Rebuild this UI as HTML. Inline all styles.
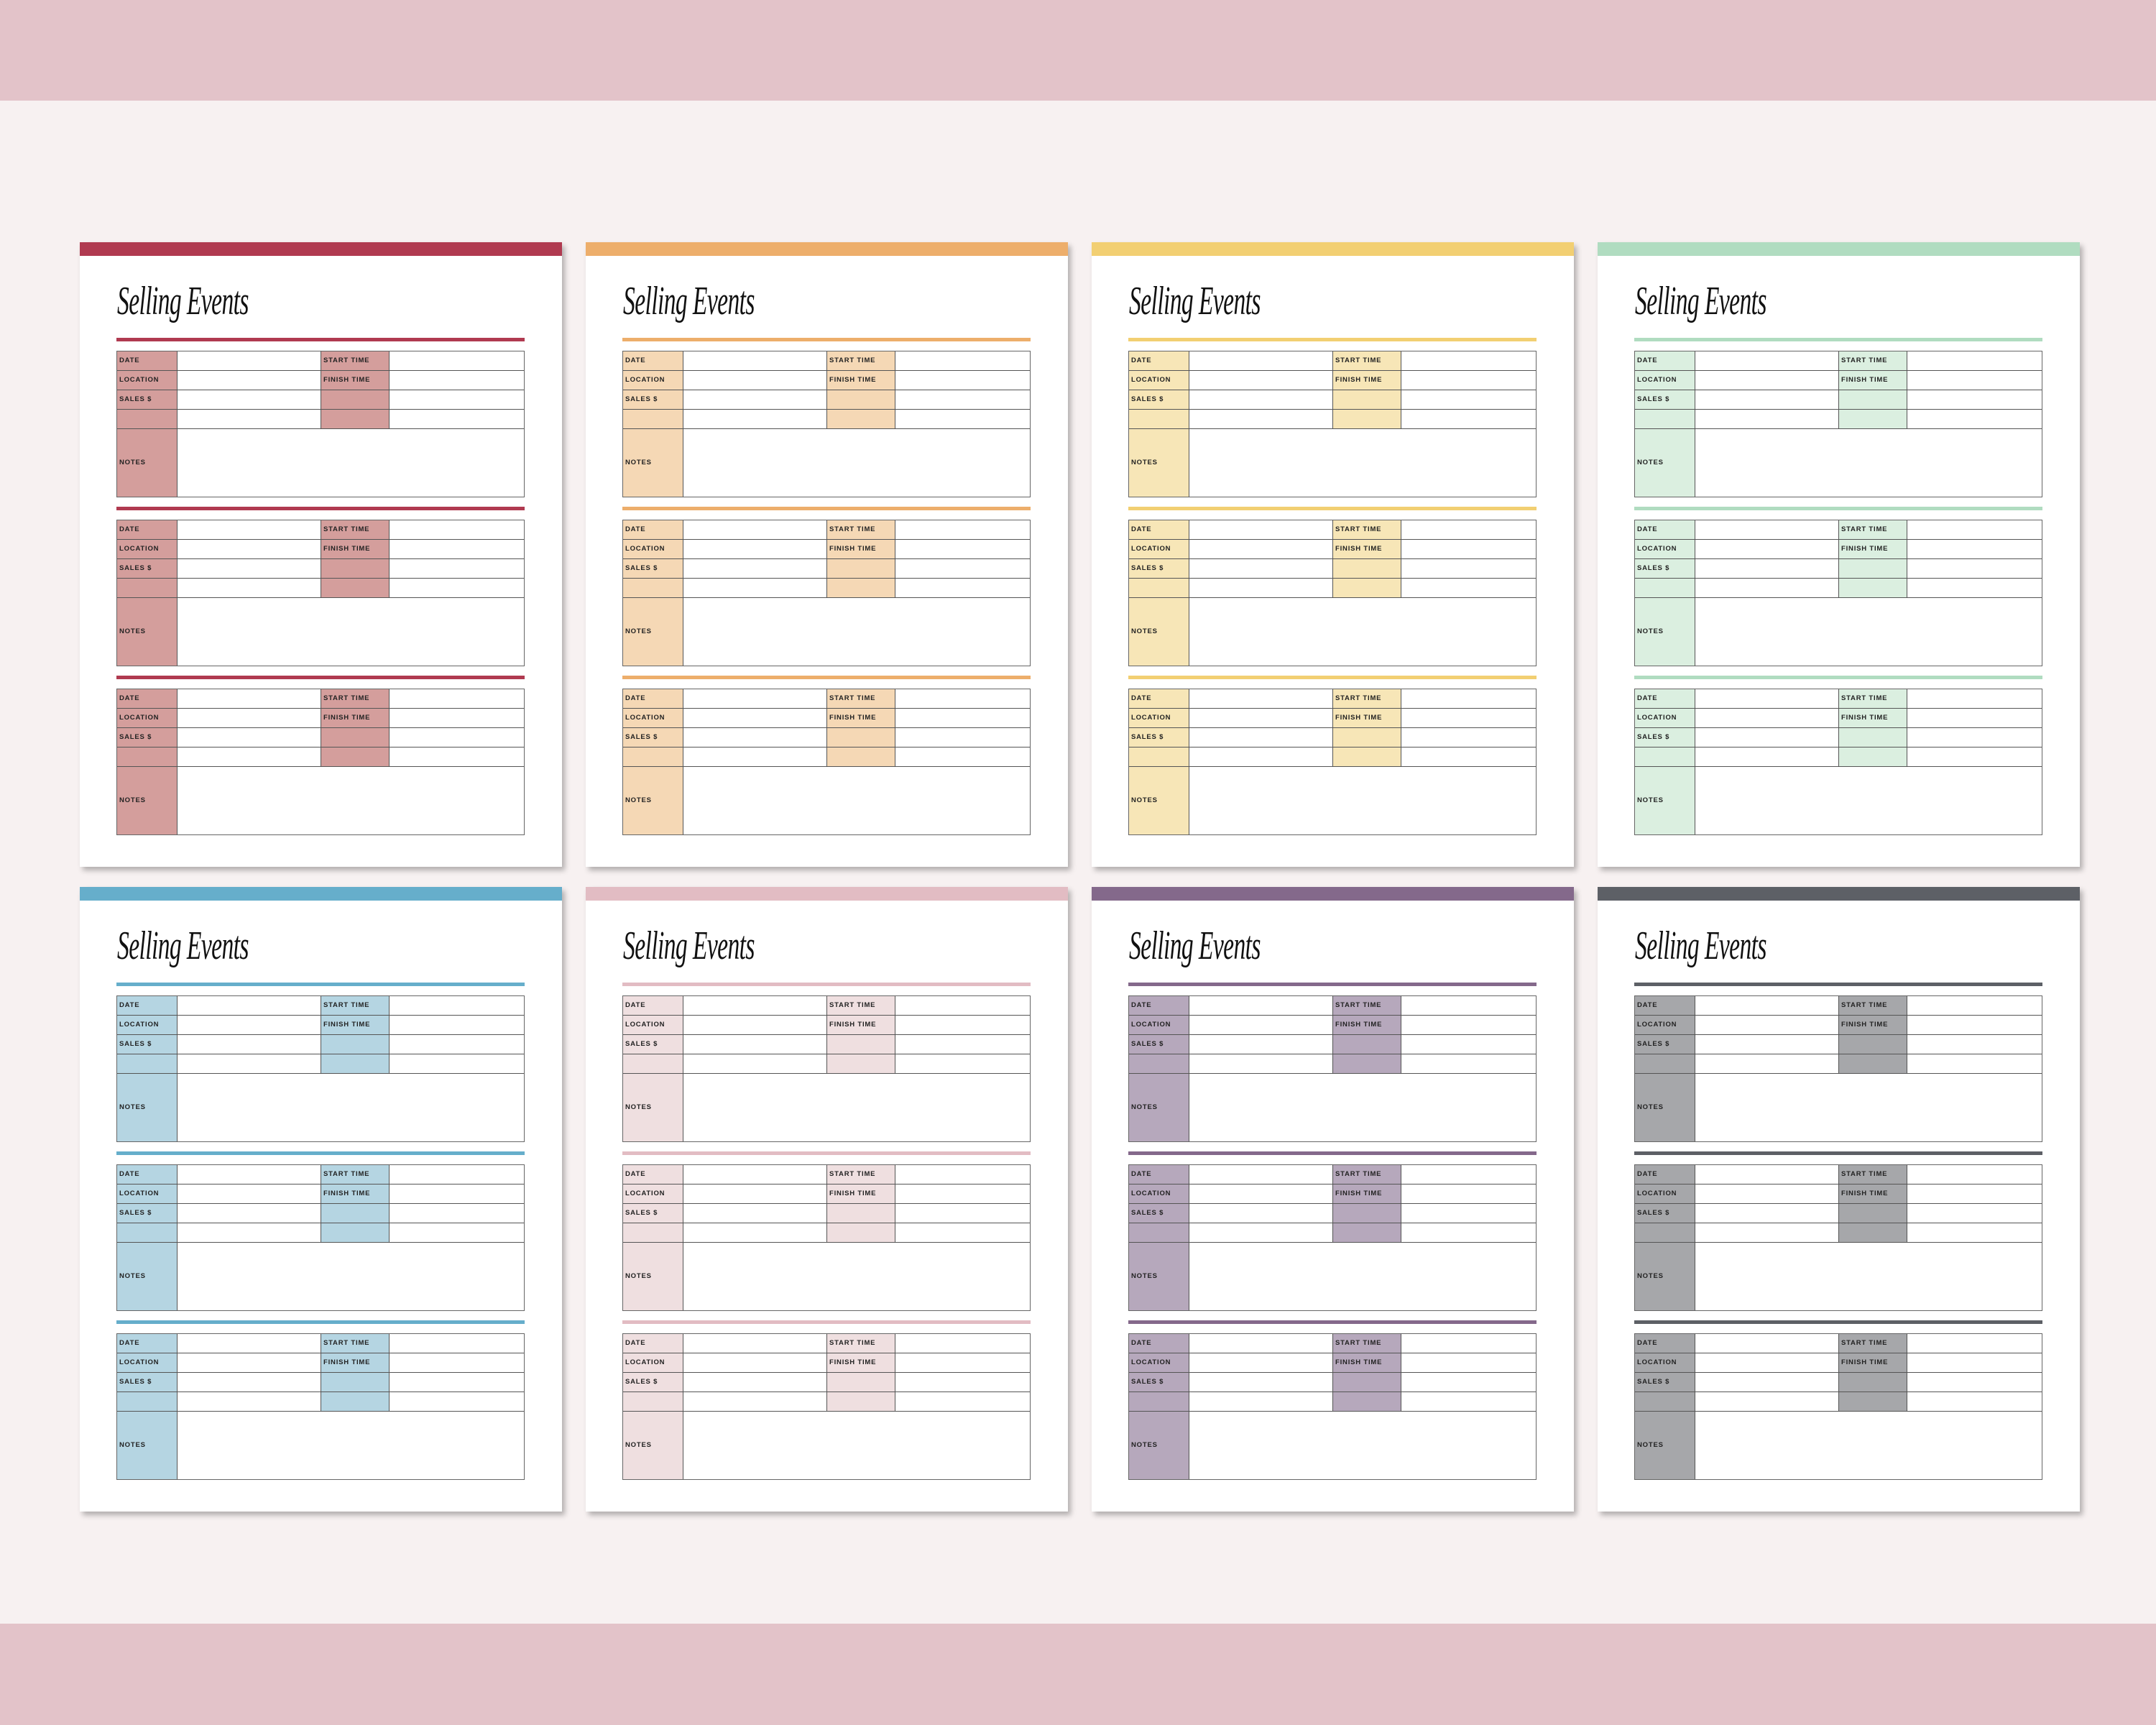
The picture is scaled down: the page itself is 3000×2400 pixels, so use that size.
<!DOCTYPE html>
<html><head><meta charset="utf-8">
<style>
*{margin:0;padding:0;box-sizing:border-box}
body{width:3000px;height:2400px;background:#f7f1f1;position:relative;overflow:hidden;font-family:"Liberation Sans",sans-serif}
.band{position:absolute;left:0;width:3000px;background:#e3c3c9}
.page{position:absolute;width:671px;height:869px;background:#fff;box-shadow:4px 5px 7px rgba(0,0,0,0.28)}
.bar{position:absolute;left:0;top:0;width:671px;height:19px}
.title{position:absolute;left:52px;top:50px;font-family:"Liberation Serif",serif;font-style:italic;font-size:56px;color:#111;letter-spacing:-1px;transform:scaleX(0.6);transform-origin:left top}
.line{position:absolute;left:51px;width:568px;height:5px}
.tbl{position:absolute;left:51px;width:568px;height:204px;border:1.5px solid #666}
.cell{position:absolute;border-right:1.5px solid #555;border-bottom:1.5px solid #555}
.lab{position:absolute;font-size:9.5px;font-weight:bold;letter-spacing:0.8px;color:#222;line-height:10px}
</style></head><body>
<div class="band" style="top:0;height:140px"></div>
<div class="band" style="top:2259px;height:141px"></div>
<div id="root"></div>
<script>
const pageBars=['#b03a50','#edae6b','#f2cf72','#b0dcc0','#66aecb','#e2bcc3','#84698b','#5d6066'];
const pageFills=['#d49e9c','#f5d8b5','#f7e6b7','#dbefe0','#b5d5e2','#efdfe0','#b6a8bc','#a6a7aa'];
const colX=[111,815,1519,2223];
const rowY=[337,1234];
const root=document.getElementById('root');
function mk(cls,parent,css){const d=document.createElement('div');d.className=cls;Object.assign(d.style,css||{});parent.appendChild(d);return d;}
for(let i=0;i<8;i++){
  const p=mk('page',root,{left:colX[i%4]+'px',top:rowY[Math.floor(i/4)]+'px'});
  
  
  const b=mk('bar',p,{background:pageBars[i]});
  
  
  const t=mk('title',p);t.textContent='Selling Events';
  
  
  for(let s=0;s<3;s++){
    const y0=133+s*235;
    const l=mk('line',p,{top:y0+'px',background:pageBars[i]});
    
    
    const tb=mk('tbl',p,{top:(y0+18)+'px'});
    
    
    const cx=[0,84,284,379,566];
    const labels=[['DATE','START TIME'],['LOCATION','FINISH TIME'],['SALES $',''],['','']];
    for(let r=0;r<4;r++){
      for(let c=0;c<4;c++){
        const cell=mk('cell',tb,{left:cx[c]+'px',top:(r*27)+'px',width:(cx[c+1]-cx[c])+'px',height:'27px',background:(c%2==0)?pageFills[i]:'#fff'});
        if(c==3)cell.style.borderRight='none';
        
        
        if(c%2==0&&labels[r][c/2]){const lb=mk('lab',cell,{left:'3px',top:'8px'});lb.textContent=labels[r][c/2];}
      }
    }
    const nl=mk('cell',tb,{left:'0px',top:'108px',width:'84px',height:'94px',background:pageFills[i],borderBottom:'none'});
    
    
    const nlab=mk('lab',nl,{left:'3px',top:'42px'});nlab.textContent='NOTES';
    const ni=mk('cell',tb,{left:'84px',top:'108px',width:'482px',height:'94px',border:'none'});
    
    
  }
}
</script>
</body></html>
